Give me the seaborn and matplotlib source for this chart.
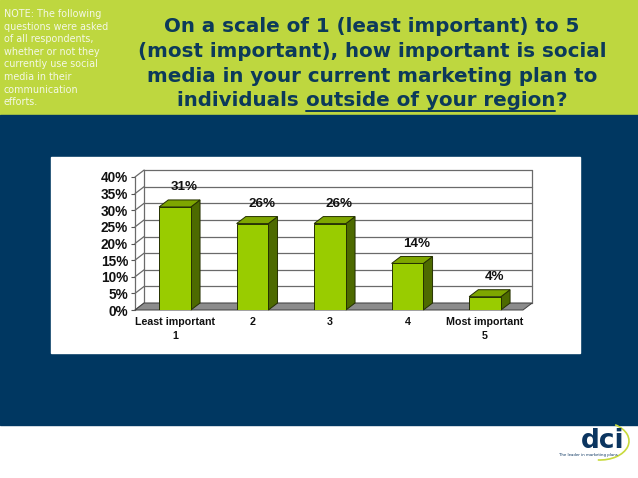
import matplotlib
matplotlib.use("Agg")
import matplotlib.pyplot as plt
import seaborn as sns
import pandas as pd
from matplotlib.patches import Rectangle, Polygon, Arc

# ---- data ----
categories = ["Least important\n1", "2", "3", "4", "Most important\n5"]
values = [31, 26, 26, 14, 4]
value_labels = ["31%", "26%", "26%", "14%", "4%"]
y_ticks = [0, 5, 10, 15, 20, 25, 30, 35, 40]
y_tick_labels = ["0%", "5%", "10%", "15%", "20%", "25%", "30%", "35%", "40%"]
note_lines = ["NOTE: The following", "questions were asked", "of all respondents,",
              "whether or not they", "currently use social", "media in their",
              "communication", "efforts."]
title_lines = ["On a scale of 1 (least important) to 5",
               "(most important), how important is social",
               "media in your current marketing plan to"]
title_last = ["individuals ", "outside of your region", "?"]

GREEN = "#bed73f"
NAVY = "#003761"
TITLE_C = "#0c3a5a"
FRONT = "#99cc00"
TOP = "#7ea600"
SIDE = "#4d6a00"
EDGE = "#243000"
GRID = "#6a6a6a"

sns.set_theme(style="white")
plt.rcParams["font.family"] = ["DejaVu Sans"]

W, H = 638, 478
fig = plt.figure(figsize=(W / 100, H / 100), dpi=100)
fig.patch.set_facecolor("white")

def fx(px):
    return px / W

def fy(py):
    return 1 - py / H

# backgrounds
fig.patches.append(Rectangle((0, fy(115)), 1, 115 / H, transform=fig.transFigure,
                             color=GREEN, zorder=0))
fig.patches.append(Rectangle((0, fy(425)), 1, (425 - 115) / H, transform=fig.transFigure,
                             color=NAVY, zorder=0))
fig.patches.append(Rectangle((fx(51), fy(353)), (580 - 51) / W, (353 - 157) / H,
                             transform=fig.transFigure, color="white", zorder=1))

# note text
for i, line in enumerate(note_lines):
    fig.text(fx(4), fy(14 + i * 12.6), line, color="#f4f8e6", fontsize=6.9,
             ha="left", va="center", zorder=3)

# title
TX = 372
tfs = 14.3
for i, line in enumerate(title_lines):
    fig.text(fx(TX), fy(27 + i * 24.6), line, color=TITLE_C, fontsize=tfs,
             fontweight="bold", ha="center", va="center", zorder=3)

renderer = fig.canvas.get_renderer()
pieces = []
widths = []
for s in title_last:
    t = fig.text(0, fy(101), s, color=TITLE_C, fontsize=tfs, fontweight="bold",
                 ha="left", va="center", zorder=3)
    pieces.append(t)
    widths.append(t.get_window_extent(renderer).width)
total = sum(widths)
xstart = TX - total / 2
cur = xstart
for t, w in zip(pieces, widths):
    t.set_x(fx(cur))
    cur += w
ul_x0 = xstart + widths[0]
ul_x1 = ul_x0 + widths[1]
fig.add_artist(plt.Line2D([fx(ul_x0), fx(ul_x1)], [fy(111), fy(111)],
                          transform=fig.transFigure, color=TITLE_C, lw=1.4, zorder=3))

# chart axes (front plane)
ax_l, ax_r, ax_b, ax_t = 135, 523, 310, 177
ax = fig.add_axes([fx(ax_l), fy(ax_b), (ax_r - ax_l) / W, (ax_b - ax_t) / H])
ax.set_facecolor("none")
ax.set_zorder(5)

df = pd.DataFrame({"cat": categories, "val": values})
BW = 0.41
sns.barplot(data=df, x="cat", y="val", color=FRONT, width=BW, saturation=1,
            edgecolor=EDGE, linewidth=0.7, ax=ax, zorder=4)

x0, x1 = -0.516, 4.49
ax.set_xlim(x0, x1)
ax.set_ylim(0, 40)
DX, DY = 0.118, 2.1

# walls, floor, grid
for yv in y_ticks:
    ax.plot([x0 + DX, x1 + DX], [yv + DY, yv + DY], color=GRID, lw=0.9,
            zorder=1, clip_on=False)
    ax.plot([x0, x0 + DX], [yv, yv + DY], color=GRID, lw=0.9, zorder=1,
            clip_on=False)
ax.plot([x0, x0], [0, 40], color=GRID, lw=0.9, zorder=1, clip_on=False)
ax.plot([x0 + DX, x0 + DX], [DY, 40 + DY], color=GRID, lw=0.9, zorder=1, clip_on=False)
ax.plot([x1 + DX, x1 + DX], [DY, 40 + DY], color=GRID, lw=0.9, zorder=1, clip_on=False)
ax.add_patch(Polygon([[x0, 0], [x1, 0], [x1 + DX, DY], [x0 + DX, DY]], closed=True,
                     facecolor="#8c8c8c", edgecolor="#404040", lw=0.7, zorder=2,
                     clip_on=False))

# 3D faces
for i, v in enumerate(values):
    xl, xr = i - BW / 2, i + BW / 2
    ax.add_patch(Polygon([[xr, 0], [xr + DX, DY], [xr + DX, v + DY], [xr, v]],
                         closed=True, facecolor=SIDE, edgecolor=EDGE, lw=0.7,
                         zorder=3, clip_on=False))
    ax.add_patch(Polygon([[xl, v], [xl + DX, v + DY], [xr + DX, v + DY], [xr, v]],
                         closed=True, facecolor=TOP, edgecolor=EDGE, lw=0.7,
                         zorder=3, clip_on=False))
    ax.annotate(value_labels[i], (i + DX, v + DY), xytext=(0, 5),
                textcoords="offset points", ha="center", va="bottom",
                fontsize=9.6, fontweight="bold", family="Liberation Sans",
                color="#111111", zorder=6)

for s in ax.spines.values():
    s.set_visible(False)
ax.set_xlabel("")
ax.set_ylabel("")
ax.set_yticks(y_ticks)
ax.set_yticklabels(y_tick_labels, fontsize=9.8, fontweight="bold",
                   family="Liberation Sans", color="#111111")
ax.set_xticks(range(len(categories)))
ax.set_xticklabels(categories, fontsize=7.7, fontweight="bold",
                   family="Liberation Sans", color="#111111", linespacing=1.45)
ax.tick_params(axis="y", length=3, width=0.8, color="#555555", pad=2, left=True)
ax.tick_params(axis="x", length=0, pad=5)
ax.grid(False)

# logo
fig.text(fx(603), fy(441), "dci", color="#0b3560", fontsize=19, fontweight="bold",
         ha="center", va="center", zorder=3)
fig.text(fx(588), fy(455), "The leader in marketing plans", color="#0b3560",
         fontsize=2.8, ha="center", va="center", zorder=3)
fig.patches.append(Arc((fx(600), fy(441)), 58 / W, 38 / H, theta1=-95, theta2=55,
                       transform=fig.transFigure, color="#c8da3c", lw=1.2, zorder=3))

fig.savefig("out.png", dpi=100, facecolor="white")
